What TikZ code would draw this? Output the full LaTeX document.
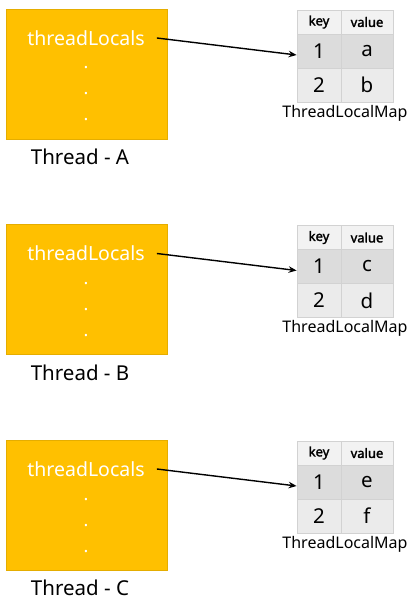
\documentclass[tikz,border=0pt]{standalone}
\usepackage{fontspec}
\setmainfont{Noto Sans}[AutoFakeBold=2]
\usetikzlibrary{arrows.meta}
\definecolor{threadyellow}{HTML}{FFC000}
\definecolor{headgray}{HTML}{F2F2F2}
\definecolor{rowdark}{HTML}{DCDCDC}
\definecolor{rowlight}{HTML}{EBEBEB}

\begin{document}
\begin{tikzpicture}[x=1pt,y=-1pt]

\useasboundingbox (0,0) rectangle (412,607);

\foreach \i/\k/\va/\vb in {0/A/a/b,1/B/c/d,2/C/e/f} {
  \pgfmathsetmacro{\dy}{\i*215.5}

  \begin{scope}[yshift=-\dy pt] % Thread object
    \node (th\k) at (86.5,74) [fill=threadyellow,draw=threadyellow!90!black,
      minimum width=161pt,minimum height=130pt,inner sep=0pt] {};
    \node (tl\k) at (86,38) [text=white,inner xsep=12pt,
      font=\fontsize{19.5}{19.5}\selectfont] {threadLocals};
    \foreach \y in {69,95,121}
      \node at (86,\y) [anchor=base,text=white,inner sep=0pt,
        font=\fontsize{18}{18}\selectfont] {.};
    \node (lbl\k) at (80,157) [font=\fontsize{20.5}{20.5}\selectfont] {Thread\ -\ \k};
  \end{scope}

  \begin{scope}[yshift=-\dy pt, % ThreadLocalMap table
    cell/.style={draw=gray!35,line width=0.8pt,inner sep=0pt,
      minimum height=34pt,font=\fontsize{20.5}{20.5}\selectfont},
    head/.style={cell,fill=headgray,minimum height=24pt,
      font=\bfseries\fontsize{13}{13}\selectfont}]
    \node (key\k0) at (319,22) [head,minimum width=44pt] {key};
    \node (val\k0) at (367,22) [head,minimum width=52pt] {value};
    \node (key\k1) at (319,51) [cell,fill=rowdark,minimum width=44pt] {1};
    \node (val\k1) at (367,51) [cell,fill=rowdark,minimum width=52pt] {\va};
    \node (key\k2) at (319,85) [cell,fill=rowlight,minimum width=44pt] {2};
    \node (val\k2) at (367,85) [cell,fill=rowlight,minimum width=52pt] {\vb};
    \node (map\k) at (345,113) [font=\fontsize{16}{16}\selectfont] {ThreadLocalMap};
  \end{scope}

  % pointer from the field to its map
  \draw[line width=1.4pt,-{Stealth[length=8pt,width=6.5pt]}]
    (tl\k.east) -- ([yshift=-4pt]key\k1.west);
}

\end{tikzpicture}
\end{document}
